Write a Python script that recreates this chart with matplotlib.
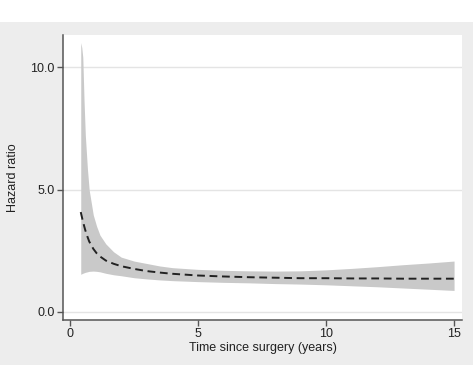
import numpy as np
import matplotlib
matplotlib.use("Agg")
import matplotlib.pyplot as plt
from matplotlib.patches import Rectangle

# values (years since surgery, hazard ratio and its 95% band)
years = [0.42, 0.46, 0.5, 0.55, 0.6, 0.68, 0.75, 0.91, 1.04, 1.17, 1.4, 1.7, 2.0, 2.5,
         3.0, 3.5, 4.0, 5.0, 6.0, 7.0, 8.0, 9.0, 10.0, 11.0, 12.0, 13.0, 14.0, 15.0]
hazard = [4.08, 3.90, 3.72, 3.52, 3.33, 3.08, 2.88, 2.58, 2.40, 2.27, 2.10, 1.97, 1.87, 1.76,
          1.67, 1.61, 1.56, 1.49, 1.45, 1.42, 1.40, 1.38, 1.38, 1.37, 1.37, 1.36, 1.36, 1.36]
upper = [11.0, 10.8, 10.4, 8.6, 7.2, 5.86, 4.98, 3.96, 3.5, 3.14, 2.78, 2.46, 2.24, 2.08,
         1.98, 1.88, 1.81, 1.74, 1.70, 1.68, 1.67, 1.68, 1.72, 1.78, 1.85, 1.93, 2.0, 2.08]
lower = [1.54, 1.56, 1.58, 1.60, 1.62, 1.64, 1.66, 1.67, 1.66, 1.64, 1.58, 1.52, 1.48, 1.40,
         1.35, 1.31, 1.28, 1.24, 1.21, 1.19, 1.16, 1.14, 1.11, 1.07, 1.03, 0.98, 0.93, 0.88]
xticks = [0, 5, 10, 15]
yticks = [0.0, 5.0, 10.0]

plt.rcParams['font.family'] = ['Liberation Sans', 'DejaVu Sans']

fig = plt.figure(figsize=(4.74, 3.67), dpi=100, facecolor='white')
# grey Stata-like background panel
fig.patches.append(Rectangle((0, 2 / 367), 473 / 474, 343 / 367, transform=fig.transFigure,
                             facecolor='#ededed', edgecolor='none', zorder=-10))

ax = fig.add_axes([63 / 474, 47 / 367, 399 / 474, 285 / 367])
ax.set_facecolor('white')

ax.fill_between(years, lower, upper, color='#c9c9c9', linewidth=0, zorder=2)
ax.plot(years, hazard, color='#222222', lw=1.4, dashes=[4, 2.4], zorder=3)

ax.set_xlim(-0.273, 15.31)
ax.set_ylim(-0.327, 11.31)
ax.set_xticks(xticks)
ax.set_xticklabels([str(v) for v in xticks])
ax.set_yticks(yticks)
ax.set_yticklabels(['%.1f' % v for v in yticks])

for y in yticks:
    ax.axhline(y, color='#e4e4e4', lw=1, zorder=1)

for s in ['top', 'right']:
    ax.spines[s].set_visible(False)
for s in ['left', 'bottom']:
    ax.spines[s].set_color('#555555')
    ax.spines[s].set_linewidth(1.1)

ax.tick_params(axis='both', length=4, width=1, color='#555555', labelsize=9,
               labelcolor='#222222', pad=2)

ax.set_xlabel('Time since surgery (years)', fontsize=9, color='#222222', labelpad=1)
ax.set_ylabel('Hazard ratio', fontsize=9, color='#222222', labelpad=8)

fig.savefig('out.png', dpi=100, facecolor=fig.get_facecolor())
